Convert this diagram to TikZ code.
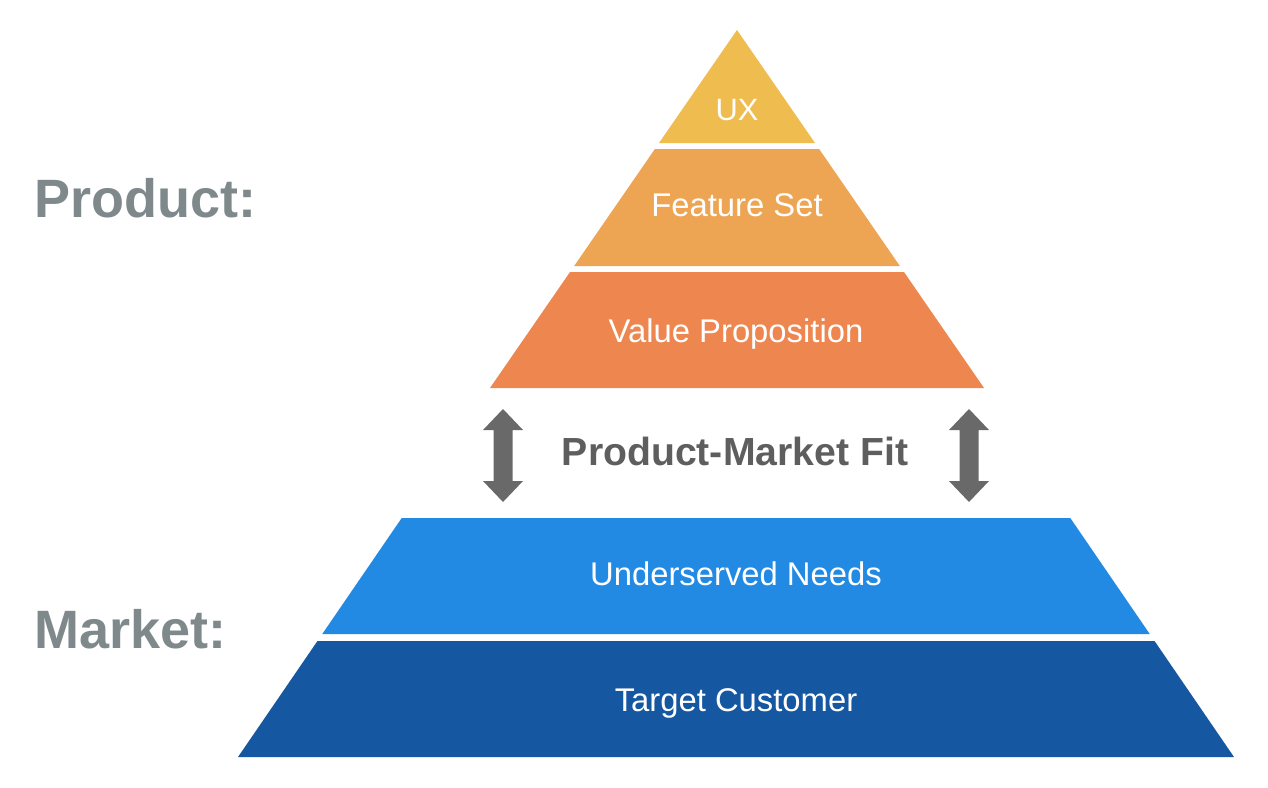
\documentclass[tikz,border=0pt]{standalone}
\usepackage{fontspec}
\setmainfont{Liberation Sans}
\definecolor{cux}{HTML}{EFBC4F}
\definecolor{cfeat}{HTML}{EEA553}
\definecolor{cval}{HTML}{EE8650}
\definecolor{cneed}{HTML}{238AE4}
\definecolor{ccust}{HTML}{1557A0}
\definecolor{clabel}{HTML}{7F898B}
\definecolor{cfit}{HTML}{5E5E5E}
\definecolor{carrow}{HTML}{696969}
\tikzset{
  layertext/.style={text=white, inner sep=0pt, anchor=base, font=\fontsize{16.4}{18}\selectfont},
  sidelabel/.style={text=clabel, inner sep=0pt, anchor=base west, font=\bfseries\fontsize{27}{30}\selectfont},
  fitlabel/.style={text=cfit, inner sep=0pt, anchor=base, font=\bfseries\fontsize{19.6}{22}\selectfont},
  blockarrow/.style={fill=carrow, draw=none},
}
% layer of a pyramid: top y, bottom y, colour, centre x, slope
\newcommand{\pyrlayer}[5]{%
  \pgfmathsetmacro{\xtl}{#4-#5*(#1-30)}
  \pgfmathsetmacro{\xtr}{#4+#5*(#1-30)}
  \pgfmathsetmacro{\xbl}{#4-#5*(#2-30)}
  \pgfmathsetmacro{\xbr}{#4+#5*(#2-30)}
  \fill[#3] (\xtl,#1) -- (\xtr,#1) -- (\xbr,#2) -- (\xbl,#2) -- cycle;
}
\newcommand{\vdblarrow}[1]{% centre x
  \fill[blockarrow] (#1,409) -- (#1+20,430) -- (#1+9.5,430) -- (#1+9.5,481) -- (#1+20,481)
    -- (#1,502) -- (#1-20,481) -- (#1-9.5,481) -- (#1-9.5,430) -- (#1-20,430) -- cycle;
}
\begin{document}
\begin{tikzpicture}[x=0.5pt,y=-0.5pt]
\useasboundingbox[fill=white] (0,0) rectangle (1268,787);
% product pyramid
\fill[cux] (737,30) -- (815,143) -- (659,143) -- cycle;
\pyrlayer{149}{266}{cfeat}{737}{0.69}
\pyrlayer{272}{388}{cval}{737}{0.69}
% market pyramid
\pyrlayer{518}{634}{cneed}{736}{0.685}
\pyrlayer{641}{757}{ccust}{736}{0.685}
% arrows
\vdblarrow{503}
\vdblarrow{969}
% texts
\node[layertext, font=\fontsize{15.4}{18}\selectfont] (ux) at (737,120) {UX};
\node[layertext] (feat) at (737,216) {Feature Set};
\node[layertext] (val) at (736,342) {Value Proposition};
\node[layertext] (need) at (736,585) {Underserved Needs};
\node[layertext] (cust) at (736,711) {Target Customer};
\node[fitlabel] (fit) at (735,465) {Product-Market Fit};
\node[sidelabel] (product) at (34,217) {Product:};
\node[sidelabel] (market) at (34,648) {Market:};
\end{tikzpicture}
\end{document}
